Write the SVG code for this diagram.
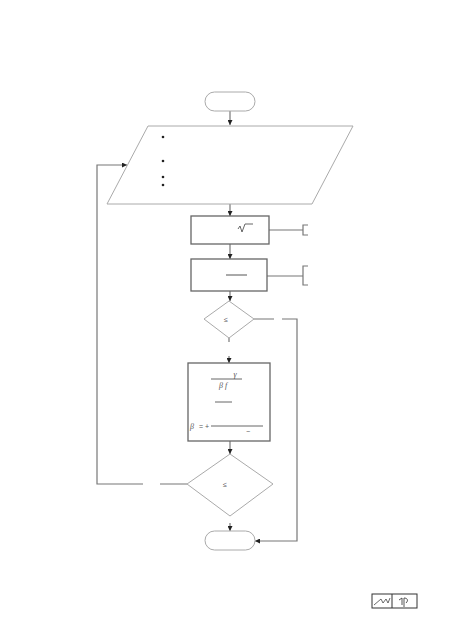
<svg xmlns="http://www.w3.org/2000/svg" width="474" height="632" viewBox="0 0 474 632">
<style>
.t{fill:#fff;stroke:#aaa;stroke-width:1}
.b{fill:#fff;stroke:#666;stroke-width:1.3}
.d{fill:#fff;stroke:#aaa;stroke-width:1}
.c{fill:none;stroke:#777;stroke-width:1.2}
.m{font-family:"Liberation Serif",serif;font-style:italic;font-size:8px;fill:#555}
.s{font-family:"Liberation Sans",sans-serif;font-size:7px;fill:#555}
</style>
<defs>
<marker id="a" viewBox="0 0 6 6" refX="6" refY="3" markerWidth="5" markerHeight="5" orient="auto" markerUnits="userSpaceOnUse">
<path d="M0,0L6,3L0,6z" fill="#222"/>
</marker>
</defs>
<rect width="474" height="632" fill="#fff"/>
<g id="connectors">
<path class="c" d="M230,111V125" marker-end="url(#a)"/>
<path class="c" d="M230,204V216" marker-end="url(#a)"/>
<path class="c" d="M230,244V259" marker-end="url(#a)"/>
<path class="c" d="M230,291V301" marker-end="url(#a)"/>
<path class="c" d="M229,338V342"/>
<path class="c" d="M229,356V363" marker-end="url(#a)"/>
<path class="c" d="M230,441V454" marker-end="url(#a)"/>
<path class="c" d="M230,523V531" marker-end="url(#a)"/>
<path class="c" d="M254,319H274M282,319H297V541H255" marker-end="url(#a)"/>
<path class="c" d="M187,484H160M143,484H97V165H127" marker-end="url(#a)"/>
<path class="c" d="M269,230H303M308,225H303V235H308"/>
<path class="c" d="M267,276H303M308,266H303V285H308"/>
</g>
<g id="start"><rect class="t" x="205" y="92" width="50" height="19" rx="9.5"/></g>
<g id="input">
<polygon class="d" points="148,126 353,126 312,204 107,204"/>
<circle cx="163" cy="137" r="1.3" fill="#222"/>
<circle cx="163" cy="161" r="1.3" fill="#222"/>
<circle cx="163" cy="177" r="1.3" fill="#222"/>
<circle cx="163" cy="185" r="1.3" fill="#222"/>
</g>
<g id="process1">
<rect class="b" x="191" y="216" width="78" height="28"/>
<path d="M238,229L240,226L242,232L245,224H253" fill="none" stroke="#555" stroke-width="0.9"/>
</g>
<g id="process2">
<rect class="b" x="191" y="259" width="76" height="32"/>
<path d="M226,275H247" stroke="#555" stroke-width="1"/>
</g>
<g id="decision1">
<polygon class="d" points="229,301 254,319 229,338 204,319"/>
<text class="s" x="226" y="322" text-anchor="middle">≤</text>
</g>
<g id="process3">
<rect class="b" x="188" y="363" width="82" height="78"/>
<text class="m" x="235" y="377" text-anchor="middle">γ</text>
<path d="M211,379H242" stroke="#555" stroke-width="0.9"/>
<text class="m" x="223" y="388" text-anchor="middle">β  f</text>
<path d="M215,402H232" stroke="#555" stroke-width="0.9"/>
<text class="m" x="190" y="429">β</text>
<text class="s" x="199" y="429">=</text>
<text class="s" x="205" y="429">+</text>
<path d="M211,426H263" stroke="#555" stroke-width="0.9"/>
<text class="s" x="248" y="434" text-anchor="middle">−</text>
</g>
<g id="decision2">
<polygon class="d" points="230,454 273,484 230,516 187,484"/>
<text class="s" x="225" y="487" text-anchor="middle">≤</text>
</g>
<g id="end"><rect class="t" x="205" y="531" width="50" height="19" rx="9.5"/></g>
<g id="logo">
<rect x="372" y="594" width="45" height="14" fill="#fff" stroke="#333" stroke-width="1"/>
<path d="M392,594V608" stroke="#333" stroke-width="1"/>
<path d="M374,605L381,599L383,603L386,599L388,603L390,598" fill="none" stroke="#444" stroke-width="0.8"/>
<path d="M399,600L402,598V605M404,598C407,598 409,600 406,603M404,598V607" fill="none" stroke="#444" stroke-width="0.9"/>
</g>
</svg>
